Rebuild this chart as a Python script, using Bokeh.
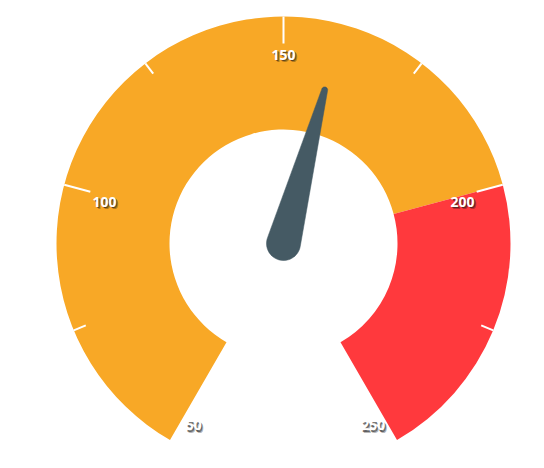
import math
from bokeh.plotting import figure
from bokeh.models import Range1d
from bokeh.core.properties import value
from bokeh.embed import file_html
from bokeh.resources import INLINE

# ---- data ----
gauge_min = 50
gauge_max = 250
band_starts = [50, 200]
band_ends = [200, 250]
band_colors = ["#f8a826", "#ff393d"]
major_ticks = [50, 100, 150, 200, 250]
minor_ticks = [75, 125, 175, 225]
tick_labels = ["50", "100", "150", "200", "250"]
needle_value = 160

# ---- geometry (1 data unit = 1 px) ----
W, H = 528, 452
cx, cy = 283, 225
R_out, R_in = 227, 114
sweep = 300.0
start_deg = 90 + sweep / 2  # math angle of gauge_min


def math_deg(v):
    return start_deg - (v - gauge_min) / (gauge_max - gauge_min) * sweep


p = figure(width=W, height=H, output_backend="svg", toolbar_location=None,
           x_range=Range1d(0, W), y_range=Range1d(468 - H, 468),
           x_axis_location=None, y_axis_location=None, min_border=0)
p.grid.visible = False
p.outline_line_color = None
p.background_fill_color = "white"
p.border_fill_color = "white"

# bands
p.annular_wedge(x=[cx] * len(band_starts), y=[cy] * len(band_starts),
                inner_radius=R_in, outer_radius=R_out,
                start_angle=[math.radians(math_deg(e)) for e in band_ends],
                end_angle=[math.radians(math_deg(s)) for s in band_starts],
                fill_color=band_colors, line_color=None)


def tick_segments(vals, length):
    x0, y0, x1, y1 = [], [], [], []
    for v in vals:
        a = math.radians(math_deg(v))
        x0.append(cx + R_out * math.cos(a)); y0.append(cy + R_out * math.sin(a))
        x1.append(cx + (R_out - length) * math.cos(a)); y1.append(cy + (R_out - length) * math.sin(a))
    return x0, y0, x1, y1


for vals, ln in ((major_ticks[1:-1], 27), (minor_ticks, 13)):
    x0, y0, x1, y1 = tick_segments(vals, ln)
    p.segment(x0, y0, x1, y1, line_color="white", line_width=2)

# labels
lx, ly = [], []
for v in major_ticks:
    th = math.radians((v - (gauge_min + gauge_max) / 2) / (gauge_max - gauge_min) * sweep)
    u = 1 - math.cos(th)
    lx.append(cx + (189 - 5 * u) * math.sin(th))
    ly.append(cy + 189 * math.cos(th) - 9.6 * u)

font = value("Open Sans")
for dx, dy, col, alpha in ((2, -2.5, "#000000", 0.3), (1, -1.5, "#222222", 0.6)):
    p.text(x=[x + dx for x in lx], y=[y + dy for y in ly], text=tick_labels,
           text_font=font, text_font_size="14px", text_font_style="bold",
           text_align="center", text_baseline="middle",
           text_color=col, text_alpha=alpha)
p.text(x=lx, y=ly, text=tick_labels, text_font=font, text_font_size="14px",
       text_font_style="bold", text_align="center", text_baseline="middle",
       text_color="white")

# needle
phi = math.radians(math_deg(needle_value))
L, r1, r2 = 159, 17, 3
beta = math.acos((r1 - r2) / L)
tx, ty = cx + L * math.cos(phi), cy + L * math.sin(phi)
xs, ys = [], []
n = 30
for i in range(n + 1):  # tip arc
    a = phi - beta + 2 * beta * i / n
    xs.append(tx + r2 * math.cos(a)); ys.append(ty + r2 * math.sin(a))
for i in range(n + 1):  # base arc around the back
    a = phi + beta + (2 * math.pi - 2 * beta) * i / n
    xs.append(cx + r1 * math.cos(a)); ys.append(cy + r1 * math.sin(a))
p.patch(xs, ys, fill_color="#455a64", line_color="#455a64", line_width=0.5)

open("out.html", "w").write(file_html(p, INLINE))
